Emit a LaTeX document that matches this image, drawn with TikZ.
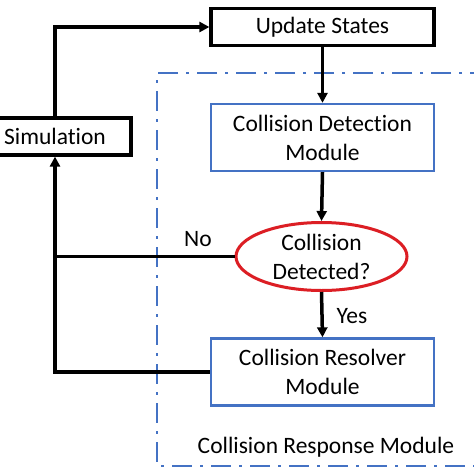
\documentclass[tikz,border=0pt]{standalone}
\usepackage{fontspec}
\setmainfont[Ligatures=NoCommon]{Carlito}
\usetikzlibrary{arrows.meta,shapes.geometric}
\definecolor{boxblue}{RGB}{68,114,196}
\definecolor{ellred}{RGB}{220,30,36}
\begin{document}
\begin{tikzpicture}[x=1pt,y=-1pt,
  every node/.style={font=\fontsize{23.5}{29}\selectfont},
  blackbox/.style={draw=black,line width=3.2pt,minimum width=223pt,minimum height=37pt,inner sep=0pt},
  bluebox/.style={draw=boxblue,line width=2.3pt,minimum width=223pt,minimum height=67pt,inner sep=0pt,align=center},
  conn/.style={line width=3.5pt,draw=black},
  arr/.style={conn,-{Triangle[length=10pt,width=10pt]}},
  lbl/.style={inner sep=0pt}]
\useasboundingbox (0,0) rectangle (474,474);
\clip (0,0) rectangle (474,474);
\fill[white] (0,0) rectangle (474,474);
% dashed container
\draw[boxblue,line width=2.2pt,dash pattern=on 20pt off 8pt on 3pt off 8pt] (490,73) -- (157,73) -- (157,466) -- (490,466);
% nodes
\node[blackbox] (upd) at (322.5,27) {Update States};
\node[draw=black,line width=3.2pt,minimum width=140pt,minimum height=37pt,inner sep=0pt] (sim) at (61,136.5) {};
\node[lbl] (simt) at (55,136.5) {Simulation};
\node[bluebox] (cdm) at (322.5,137.5) {Collision Detection\\Module};
\node[draw=ellred,line width=3pt,ellipse,minimum width=171pt,minimum height=68pt,inner sep=0pt,align=center] (det) at (321.5,256.5) {Collision\\Detected?};
\node[bluebox] (crm) at (322.5,372) {Collision Resolver\\Module};
\node[lbl] (crmlbl) at (326,447) {Collision Response Module};
\node[lbl] (no) at (198,239) {No};
\node[lbl] (yes) at (352,316) {Yes};
% connectors
\coordinate (c1) at (55,27);
\coordinate (c2) at (55,256.5);
\coordinate (c3) at (55,372);
\draw[arr] ([xshift=-6pt]sim.north) -- (c1) -- (upd.west);
\draw[arr] (upd.south) -- (cdm.north);
\draw[arr] (cdm.south) -- (det.north);
\draw[arr] (det.south) -- (crm.north);
\draw[conn] (det.west) -- (c2);
\draw[arr] (crm.west) -- (c3) -- ([xshift=-6pt]sim.south);
\end{tikzpicture}
\end{document}
